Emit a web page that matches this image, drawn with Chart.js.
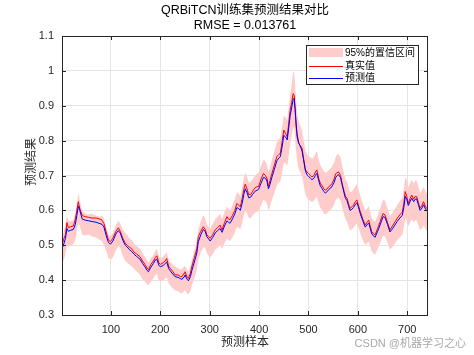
<!DOCTYPE html>
<html>
<head>
<meta charset="utf-8">
<script src="https://cdn.jsdelivr.net/npm/chart.js@4"></script>
<style>
html,body{margin:0;padding:0;background:#fff;}
#wrap{width:474px;height:355px;}
</style>
</head>
<body>
<div id="wrap"><canvas id="c" width="474" height="355"></canvas></div>
<script>
// ---- data ----
const sampleIdx = [1,5,8,11,14,18,24,28,31,34,37,42,48,55,62,70,78,82,86,90,95,99,104,110,115,119,124,129,133,137,142,147,152,159,164,169,173,176,181,186,190,193,197,200,206,210,213,217,220,225,230,236,241,244,248,250,254,257,261,264,269,274,277,282,287,291,294,298,301,306,311,316,321,325,330,335,338,341,346,351,355,359,362,366,369,372,376,379,383,387,392,396,399,404,409,413,416,419,422,426,431,436,440,443,447,450,454,457,460,463,466,469,471,473,475,477,480,484,487,490,494,497,500,504,507,511,514,517,521,524,528,531,534,538,541,545,548,552,555,558,561,565,568,572,575,578,581,584,588,591,595,598,601,605,610,615,618,622,625,628,632,635,640,645,648,651,655,660,665,670,675,680,685,690,693,696,699,702,706,709,713,716,719,723,726,730,733,737,740,742];
const actualVals = [0.500,0.520,0.530,0.565,0.550,0.553,0.555,0.575,0.600,0.625,0.605,0.585,0.582,0.580,0.578,0.578,0.575,0.572,0.562,0.540,0.515,0.510,0.520,0.540,0.550,0.540,0.520,0.506,0.500,0.495,0.490,0.480,0.475,0.467,0.455,0.445,0.435,0.430,0.445,0.455,0.465,0.470,0.450,0.445,0.450,0.455,0.462,0.440,0.434,0.425,0.415,0.415,0.410,0.410,0.420,0.424,0.410,0.405,0.420,0.440,0.465,0.490,0.525,0.540,0.553,0.545,0.530,0.525,0.520,0.530,0.544,0.550,0.558,0.544,0.565,0.582,0.575,0.573,0.585,0.600,0.620,0.615,0.610,0.635,0.660,0.675,0.660,0.645,0.645,0.655,0.665,0.668,0.668,0.690,0.706,0.700,0.692,0.668,0.685,0.706,0.730,0.754,0.760,0.764,0.800,0.830,0.820,0.811,0.850,0.888,0.910,0.935,0.930,0.888,0.840,0.810,0.792,0.785,0.778,0.750,0.716,0.710,0.706,0.700,0.696,0.700,0.710,0.716,0.690,0.678,0.670,0.662,0.658,0.662,0.668,0.672,0.678,0.690,0.705,0.708,0.710,0.700,0.678,0.655,0.640,0.635,0.620,0.606,0.610,0.615,0.625,0.630,0.615,0.596,0.575,0.558,0.565,0.572,0.555,0.539,0.532,0.530,0.548,0.567,0.580,0.591,0.587,0.565,0.544,0.555,0.567,0.578,0.587,0.595,0.620,0.654,0.640,0.620,0.635,0.644,0.632,0.640,0.640,0.620,0.606,0.615,0.625,0.610,0.606,0.610];
const predVals = [0.490,0.505,0.520,0.548,0.540,0.543,0.545,0.560,0.585,0.612,0.600,0.575,0.572,0.570,0.568,0.566,0.562,0.560,0.552,0.530,0.508,0.503,0.512,0.532,0.542,0.535,0.515,0.500,0.495,0.488,0.482,0.474,0.468,0.460,0.448,0.438,0.428,0.424,0.437,0.448,0.458,0.460,0.443,0.438,0.442,0.448,0.452,0.433,0.427,0.418,0.410,0.408,0.404,0.402,0.410,0.415,0.403,0.398,0.410,0.428,0.452,0.478,0.510,0.530,0.545,0.540,0.525,0.518,0.512,0.522,0.535,0.542,0.548,0.537,0.555,0.570,0.566,0.563,0.575,0.590,0.608,0.605,0.600,0.622,0.645,0.662,0.650,0.636,0.638,0.646,0.655,0.658,0.660,0.678,0.695,0.692,0.684,0.662,0.674,0.695,0.718,0.742,0.750,0.754,0.785,0.815,0.810,0.802,0.836,0.872,0.895,0.918,0.922,0.890,0.850,0.818,0.795,0.782,0.770,0.745,0.712,0.702,0.698,0.692,0.688,0.692,0.700,0.706,0.684,0.670,0.662,0.654,0.650,0.654,0.660,0.664,0.670,0.680,0.694,0.700,0.702,0.694,0.674,0.650,0.634,0.628,0.614,0.600,0.603,0.608,0.617,0.622,0.610,0.590,0.570,0.552,0.558,0.564,0.549,0.533,0.526,0.523,0.540,0.558,0.570,0.582,0.580,0.560,0.538,0.547,0.558,0.569,0.578,0.586,0.608,0.640,0.632,0.614,0.626,0.635,0.625,0.632,0.633,0.614,0.600,0.607,0.616,0.604,0.598,0.600];
const upperVals = [0.520,0.540,0.560,0.585,0.570,0.568,0.572,0.590,0.615,0.650,0.630,0.598,0.590,0.588,0.590,0.585,0.582,0.585,0.575,0.555,0.530,0.525,0.535,0.558,0.570,0.562,0.545,0.535,0.530,0.520,0.515,0.505,0.498,0.490,0.478,0.468,0.458,0.450,0.462,0.472,0.485,0.490,0.470,0.462,0.468,0.475,0.480,0.460,0.452,0.445,0.438,0.435,0.430,0.432,0.440,0.442,0.430,0.425,0.438,0.458,0.485,0.512,0.545,0.570,0.585,0.578,0.560,0.552,0.548,0.560,0.575,0.582,0.590,0.575,0.595,0.612,0.605,0.600,0.615,0.632,0.652,0.648,0.640,0.668,0.692,0.708,0.695,0.680,0.682,0.690,0.700,0.705,0.708,0.728,0.745,0.740,0.732,0.710,0.722,0.745,0.770,0.795,0.805,0.808,0.842,0.872,0.866,0.858,0.895,0.935,0.962,0.995,1.000,0.960,0.915,0.880,0.855,0.842,0.830,0.805,0.770,0.760,0.756,0.752,0.748,0.752,0.762,0.770,0.745,0.730,0.720,0.712,0.708,0.710,0.716,0.720,0.728,0.738,0.752,0.760,0.762,0.752,0.730,0.705,0.688,0.682,0.668,0.652,0.655,0.660,0.670,0.675,0.662,0.640,0.618,0.600,0.605,0.612,0.595,0.578,0.570,0.568,0.585,0.605,0.618,0.630,0.628,0.606,0.583,0.593,0.605,0.616,0.626,0.635,0.660,0.695,0.686,0.666,0.678,0.688,0.677,0.685,0.686,0.666,0.650,0.658,0.668,0.655,0.648,0.650];
const lowerVals = [0.445,0.460,0.475,0.500,0.495,0.500,0.502,0.515,0.540,0.565,0.555,0.530,0.528,0.530,0.525,0.522,0.515,0.512,0.500,0.485,0.465,0.458,0.465,0.485,0.498,0.492,0.470,0.455,0.450,0.445,0.440,0.432,0.425,0.415,0.402,0.395,0.388,0.385,0.395,0.405,0.415,0.418,0.400,0.395,0.400,0.405,0.408,0.390,0.385,0.377,0.370,0.368,0.363,0.362,0.368,0.372,0.362,0.360,0.368,0.385,0.405,0.430,0.460,0.480,0.495,0.492,0.478,0.470,0.465,0.475,0.487,0.493,0.500,0.490,0.505,0.520,0.515,0.512,0.522,0.537,0.552,0.550,0.545,0.565,0.585,0.600,0.590,0.578,0.578,0.585,0.594,0.596,0.598,0.615,0.630,0.627,0.620,0.600,0.610,0.630,0.650,0.672,0.680,0.683,0.712,0.738,0.735,0.727,0.758,0.790,0.812,0.835,0.840,0.808,0.770,0.742,0.720,0.708,0.698,0.675,0.645,0.636,0.632,0.627,0.623,0.627,0.634,0.640,0.620,0.607,0.600,0.592,0.588,0.592,0.598,0.602,0.607,0.616,0.629,0.634,0.636,0.628,0.610,0.588,0.574,0.568,0.555,0.543,0.546,0.550,0.558,0.563,0.552,0.534,0.516,0.500,0.505,0.510,0.497,0.482,0.476,0.473,0.489,0.505,0.516,0.527,0.525,0.507,0.487,0.495,0.505,0.515,0.523,0.530,0.550,0.579,0.572,0.555,0.566,0.574,0.565,0.572,0.572,0.555,0.543,0.549,0.557,0.546,0.541,0.543];
const xTickVals = [100,200,300,400,500,600,700];
const yTickVals = [0.3,0.4,0.5,0.6,0.7,0.8,0.9,1.0,1.1];
const titleLines = ['QRBiTCN训练集预测结果对比','RMSE = 0.013761'];
const legendLabels = ['95%的置信区间','真实值','预测值'];
const xTitle = '预测样本';
const yTitle = '预测结果';
const watermark = 'CSDN @机器学习之心';

const pts = vals => sampleIdx.map((s,i)=>({x:s,y:vals[i]}));
const BAND = 'rgb(255,204,204)';
const RED = 'rgb(255,0,0)';
const BLUE = 'rgb(0,0,255)';
const AX = '#262626';
const LATIN = '"Liberation Sans", Arial, sans-serif';
const CJK = '"Liberation Sans", "Noto Sans CJK SC", sans-serif';

const decor = {
  id:'decor',
  afterDatasetsDraw(chart){
    const {ctx, chartArea:a, scales:{x,y}} = chart;
    ctx.save();
    ctx.strokeStyle = AX; ctx.lineWidth = 1;
    ctx.strokeRect(Math.round(a.left)+0.5, Math.round(a.top)+0.5, Math.round(a.right-a.left)-1, Math.round(a.bottom-a.top));
    const L = 4;
    ctx.beginPath();
    xTickVals.forEach(v=>{ const px = Math.round(x.getPixelForValue(v))+0.5;
      ctx.moveTo(px,a.bottom); ctx.lineTo(px,a.bottom-L);
      ctx.moveTo(px,a.top); ctx.lineTo(px,a.top+L); });
    yTickVals.forEach(v=>{ const py = Math.round(y.getPixelForValue(v))+0.5;
      ctx.moveTo(a.left,py); ctx.lineTo(a.left+L,py);
      ctx.moveTo(a.right,py); ctx.lineTo(a.right-L,py); });
    ctx.stroke();
    ctx.restore();
  },
  afterDraw(chart){
    const {ctx, chartArea:a} = chart;
    ctx.save();
    const cx = (a.left+a.right)/2;
    ctx.fillStyle = '#000';
    ctx.textAlign = 'center'; ctx.textBaseline = 'middle';
    ctx.font = '12.5px ' + CJK;
    ctx.fillText(titleLines[0], cx, 11);
    ctx.fillText(titleLines[1], cx, 26);
    ctx.fillStyle = '#262626';
    ctx.font = '12px ' + CJK;
    ctx.fillText(xTitle, cx, 343);
    ctx.save();
    ctx.translate(32,162); ctx.rotate(-Math.PI/2);
    ctx.fillText(yTitle, 0, 0);
    ctx.restore();
    ctx.fillStyle = '#a8a8a8';
    ctx.font = '11px ' + CJK;
    ctx.textAlign = 'right';
    ctx.fillText(watermark, 466, 344);
    // legend
    const lx = 306, ly = 45, lw = 112, lh = 39;
    ctx.fillStyle = '#fff';
    ctx.fillRect(lx, ly, lw, lh);
    ctx.strokeStyle = AX; ctx.lineWidth = 1;
    ctx.strokeRect(lx+0.5, ly+0.5, lw, lh);
    ctx.fillStyle = BAND;
    ctx.fillRect(lx+3, ly+3, 34, 9);
    ctx.strokeStyle = RED;
    ctx.beginPath(); ctx.moveTo(lx+3, ly+21.5); ctx.lineTo(lx+37, ly+21.5); ctx.stroke();
    ctx.strokeStyle = BLUE;
    ctx.beginPath(); ctx.moveTo(lx+3, ly+33.5); ctx.lineTo(lx+37, ly+33.5); ctx.stroke();
    ctx.fillStyle = '#000';
    ctx.textAlign = 'left';
    ctx.font = '10px ' + CJK;
    ctx.fillText(legendLabels[0], lx+39, ly+8);
    ctx.fillText(legendLabels[1], lx+39, ly+21);
    ctx.fillText(legendLabels[2], lx+39, ly+33);
    ctx.restore();
  }
};

new Chart(document.getElementById('c'), {
  type:'line',
  data:{
    datasets:[
      {label:'lower', data:pts(lowerVals), borderWidth:0, pointRadius:0, fill:false, borderColor:'rgba(0,0,0,0)', order:4},
      {label:legendLabels[0], data:pts(upperVals), borderWidth:0, pointRadius:0, borderColor:'rgba(0,0,0,0)', backgroundColor:BAND, fill:'-1', order:3},
      {label:legendLabels[1], data:pts(actualVals), borderColor:RED, borderWidth:1, pointRadius:0, fill:false, order:2},
      {label:legendLabels[2], data:pts(predVals), borderColor:BLUE, borderWidth:1, pointRadius:0, fill:false, order:1}
    ]
  },
  options:{
    responsive:false, animation:false, devicePixelRatio:1,
    layout:{padding:{left:0,right:46,top:36,bottom:0}},
    plugins:{legend:{display:false}, title:{display:false}, tooltip:{enabled:false}},
    elements:{line:{tension:0}},
    scales:{
      x:{type:'linear', min:1, max:742,
        afterBuildTicks:s=>{ s.ticks = xTickVals.map(v=>({value:v})); },
        afterFit:s=>{ s.height = 40; },
        grid:{color:'#e4e4e4', drawTicks:false, drawOnChartArea:true},
        border:{display:false},
        ticks:{padding:8, color:'#262626', font:{family:LATIN, size:11}, maxRotation:0, callback:v=>String(v)}
      },
      y:{type:'linear', min:0.3, max:1.1,
        afterBuildTicks:s=>{ s.ticks = yTickVals.map(v=>({value:v})); },
        afterFit:s=>{ s.width = 62; },
        grid:{color:'#e4e4e4', drawTicks:false},
        border:{display:false},
        ticks:{padding:8, color:'#262626', font:{family:LATIN, size:11}, callback:v=>String(+(+v).toFixed(1))}
      }
    }
  },
  plugins:[decor]
});
</script>
</body>
</html>
